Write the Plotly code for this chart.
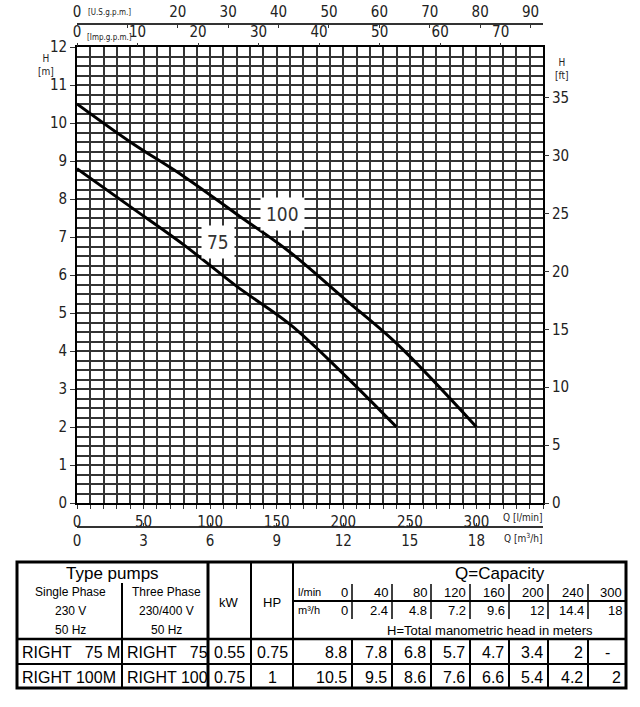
import plotly.graph_objects as go

# ---------------- data ----------------
q_lmin = [0, 40, 80, 120, 160, 200, 240, 300]
q_m3h = [0, 2.4, 4.8, 7.2, 9.6, 12, 14.4, 18]
head_75 = [8.8, 7.8, 6.8, 5.7, 4.7, 3.4, 2, None]
head_100 = [10.5, 9.5, 8.6, 7.6, 6.6, 5.4, 4.2, 2]

models = [
    {"single": "RIGHT   75 M", "three": "RIGHT   75", "kw": "0.55", "hp": "0.75", "head": head_75, "label": "75"},
    {"single": "RIGHT 100M", "three": "RIGHT 100", "kw": "0.75", "hp": "1", "head": head_100, "label": "100"},
]

lmin_ticks = [0, 50, 100, 150, 200, 250, 300]
m3h_ticks = [0, 3, 6, 9, 12, 15, 18]
usgpm_ticks = [0, 20, 30, 40, 50, 60, 70, 80, 90]
impgpm_ticks = [0, 10, 20, 30, 40, 50, 60, 70]
hm_ticks = list(range(0, 13))
hft_ticks = [0, 5, 10, 15, 20, 25, 30, 35]

Q_MAX = 350.0
H_MAX = 12.0

W, H = 640, 707
CHART_FONT = "Liberation Sans Narrow, DejaVu Sans Condensed, Liberation Sans, Arial, sans-serif"
TABLE_FONT = "Liberation Sans, Arial, sans-serif"


def px(x):
    return x / W


def py(y):
    return 1 - y / H


xdom = [px(77), px(543)]
ydom = [py(503), py(47)]

fig = go.Figure()

# curves
label_pos = {"75": (106, 6.87), "100": (154.5, 7.6)}
for m in models:
    xs = [q for q, h in zip(q_lmin, m["head"]) if h is not None]
    ys = [h for h in m["head"] if h is not None]
    fig.add_trace(go.Scatter(x=xs, y=ys, mode="lines",
                             line=dict(color="black", width=3, shape="spline", smoothing=1.0),
                             showlegend=False, hoverinfo="skip"))
    lx, ly = label_pos[m["label"]]
    fig.add_annotation(x=lx, y=ly, xref="x", yref="y", text=m["label"], showarrow=False,
                       font=dict(family=CHART_FONT, size=19, color="#333"),
                       bgcolor="white", borderpad=5)

grid_c = "#333"
tickfont = dict(family=CHART_FONT, size=15, color="#222")

fig.update_layout(
    width=W, height=H,
    margin=dict(l=0, r=0, t=0, b=0, pad=0),
    paper_bgcolor="white", plot_bgcolor="white",
    showlegend=False,
    xaxis=dict(domain=xdom, range=[0, Q_MAX], tickvals=lmin_ticks, ticktext=[str(v) for v in lmin_ticks],
               showgrid=True, gridcolor=grid_c, gridwidth=1.6,
               minor=dict(dtick=10, showgrid=True, gridcolor=grid_c, gridwidth=1.6, ticks="outside",
                          ticklen=4, tickcolor=grid_c),
               ticks="outside", ticklen=4, tickcolor=grid_c,
               showline=True, linecolor="black", linewidth=1.6, mirror=True,
               zeroline=False, tickfont=tickfont, anchor="y", automargin=False),
    yaxis=dict(domain=ydom, range=[0, H_MAX], tickvals=hm_ticks,
               showgrid=True, gridcolor=grid_c, gridwidth=1.6,
               minor=dict(dtick=0.25, showgrid=True, gridcolor=grid_c, gridwidth=1.6),
               ticks="outside", ticklen=5, tickcolor=grid_c,
               showline=True, linecolor="black", linewidth=1.6, mirror=True,
               zeroline=False, tickfont=tickfont, anchor="x", automargin=False),
    xaxis2=dict(overlaying="x", anchor="free", position=py(527), side="bottom",
                range=[0, Q_MAX * 0.06], tickvals=m3h_ticks, showgrid=False, zeroline=False,
                showline=True, linecolor="#333", linewidth=1.5, ticks="inside", ticklen=3,
                tickcolor="#333", tickfont=tickfont, automargin=False),
    xaxis3=dict(overlaying="x", anchor="free", position=py(24), side="top",
                range=[0, Q_MAX / 3.785], tickvals=usgpm_ticks,
                showgrid=False, zeroline=False,
                minor=dict(dtick=10, ticks="inside", ticklen=3, tickcolor="#333"),
                showline=True, linecolor="#333", linewidth=1.5, ticks="inside", ticklen=3,
                tickcolor="#333", tickfont=tickfont, automargin=False),
    xaxis4=dict(overlaying="x", anchor="y", side="top",
                range=[0, Q_MAX / 4.546], tickvals=impgpm_ticks,
                showgrid=False, zeroline=False, showline=False,
                ticks="outside", ticklen=3, tickcolor="#333", tickfont=tickfont, automargin=False),
    yaxis2=dict(overlaying="y", anchor="x", side="right",
                range=[0, H_MAX / 0.3048], tickvals=hft_ticks, showgrid=False, zeroline=False,
                ticks="outside", ticklen=5, tickcolor="#333", tickfont=tickfont, automargin=False),
)

# invisible traces to activate secondary axes
for xa, ya in [("x2", "y"), ("x3", "y"), ("x4", "y"), ("x", "y2")]:
    fig.add_trace(go.Scatter(x=[None], y=[None], xaxis=xa, yaxis=ya, showlegend=False, hoverinfo="skip"))

unit_font = dict(family=CHART_FONT, size=10, color="#222")
unit_small = dict(family=CHART_FONT, size=8, color="#222")


def ann(x, y, text, font, xanchor="center", yanchor="middle", align="center"):
    fig.add_annotation(x=px(x), y=py(y), xref="paper", yref="paper", text=text, showarrow=False,
                       font=font, xanchor=xanchor, yanchor=yanchor, align=align)


ann(86, 13, "[U.S.g.p.m.]", unit_small, xanchor="left")
ann(85, 38, "[Imp.g.p.m.]", unit_small, xanchor="left")
ann(46, 65, "H<br>[m]", unit_font)
ann(562, 69, "H<br>[ft]", unit_font)
ann(544, 517, "Q [l/min]", unit_font, xanchor="right")
ann(544, 538, "Q [m<sup>3</sup>/h]", unit_font, xanchor="right")

# ---------------- table ----------------
shapes = []


def line(x0, y0, x1, y1, w=2):
    shapes.append(dict(type="line", xref="paper", yref="paper", x0=px(x0), y0=py(y0), x1=px(x1), y1=py(y1),
                       line=dict(color="black", width=w)))


T_L, T_R, T_T, T_B = 17, 626, 562, 688
R_HDR, R_1 = 639, 664
C_SPLIT, C_KW, C_HP, C_Q = 122, 208, 251, 293
q_edges = [352, 392, 431, 470, 509, 548, 588, 626]

shapes.append(dict(type="rect", xref="paper", yref="paper", x0=px(T_L), y0=py(T_B), x1=px(T_R), y1=py(T_T),
                   line=dict(color="black", width=3)))
line(T_L, R_HDR, T_R, R_HDR, 2.5)
line(T_L, R_1, T_R, R_1, 2)
line(C_SPLIT, 583, C_SPLIT, T_B, 2)
line(C_KW, T_T, C_KW, T_B, 3)
line(C_HP, T_T, C_HP, T_B, 2)
line(C_Q, T_T, C_Q, T_B, 2)
line(C_Q, 601, T_R, 601, 2)
for e in q_edges[:-1]:
    line(e, 584, e, 619, 1.5)
    line(e, R_HDR, e, T_B, 2)

f16 = dict(family=TABLE_FONT, size=16, color="black")
f17 = dict(family=TABLE_FONT, size=17, color="black")
f12 = dict(family=TABLE_FONT, size=12, color="black")
f13 = dict(family=TABLE_FONT, size=13, color="black")
f11 = dict(family=TABLE_FONT, size=11, color="black")

ann(112, 573, "Type pumps", f17)
ann(70, 592, "Single Phase", f12)
ann(70, 611, "230 V", f12)
ann(70, 630, "50 Hz", f12)
ann(166, 592, "Three Phase", f12)
ann(166, 611, "230/400 V", f12)
ann(166, 630, "50 Hz", f12)
ann(229, 602, "kW", f13)
ann(272, 602, "HP", f13)
ann(500, 573, "Q=Capacity", f17)
ann(296, 592, "l/min", f11, xanchor="left")
ann(296, 610, "m³/h", f11, xanchor="left")
ann(490, 630, "H=Total manometric head in meters", f13)

for q, m3, e in zip(q_lmin, q_m3h, q_edges):
    ann(e - 2, 592, str(q), f13, xanchor="right")
    ann(e - 2, 610, f"{m3:g}", f13, xanchor="right")

row_y = [652, 677]
for m, ry in zip(models, row_y):
    ann(20, ry, m["single"], f16, xanchor="left")
    ann(125, ry, m["three"], f16, xanchor="left")
    ann(229, ry, m["kw"], f16)
    ann(272, ry, m["hp"], f16)
    prev = C_Q
    for h, e in zip(m["head"], q_edges):
        if h is None:
            ann((prev + e) / 2, ry, "-", f16)
        else:
            ann(e - 3, ry, f"{h:g}", f16, xanchor="right")
        prev = e

fig.update_layout(shapes=shapes)
fig.write_html("out.html", config={"displayModeBar": False},
               post_script="document.body.style.margin='0px';")
